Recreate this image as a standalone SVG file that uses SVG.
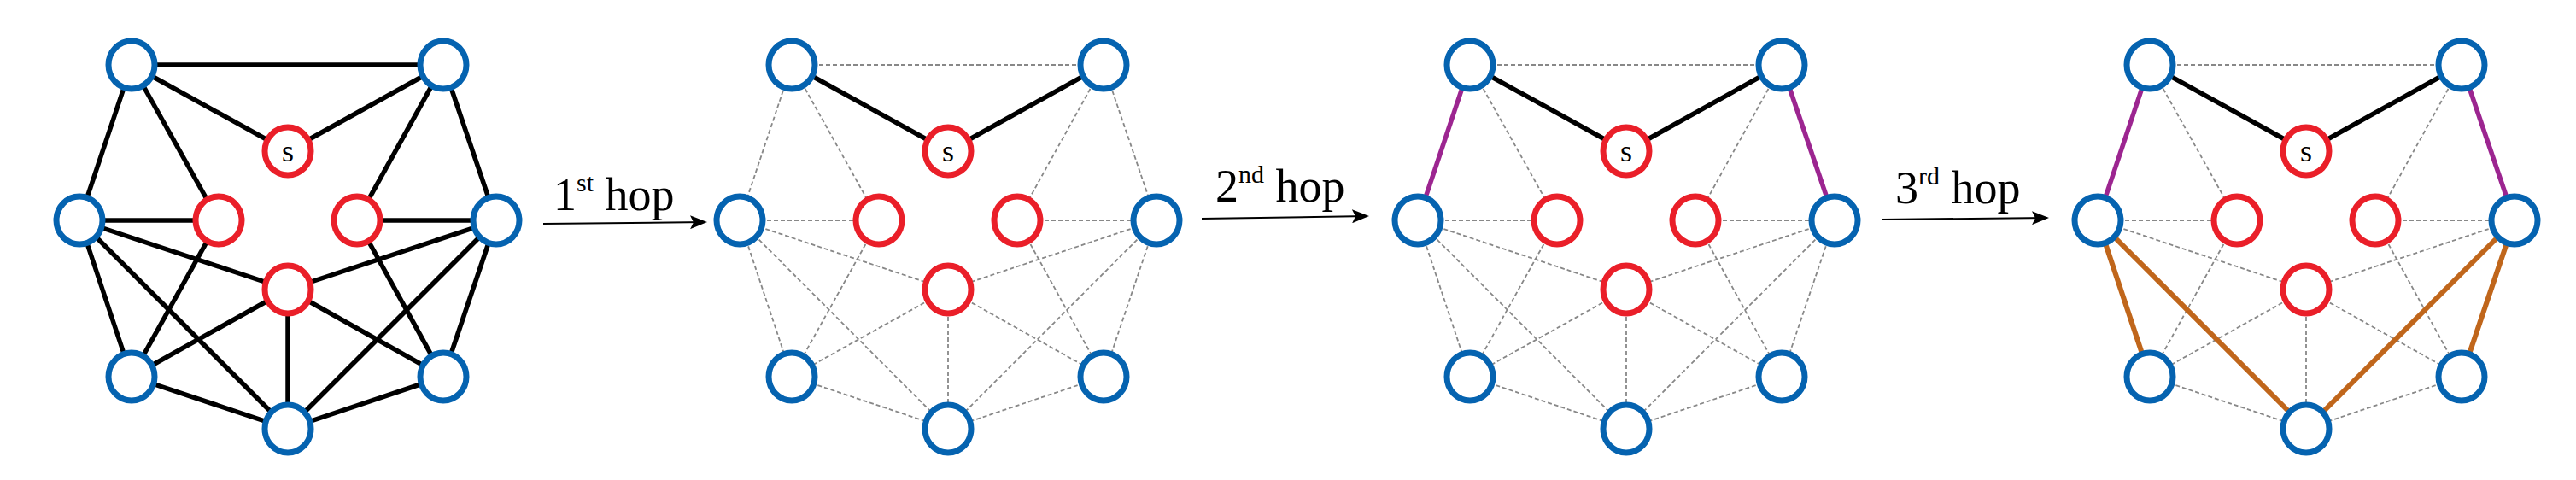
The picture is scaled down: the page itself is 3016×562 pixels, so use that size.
<svg xmlns="http://www.w3.org/2000/svg" width="3016" height="562" viewBox="0 0 3016 562">
<style>
.b{fill:#fff;stroke:#0563b0;stroke-width:7}
.r{fill:#fff;stroke:#ea1f29;stroke-width:7}
.k{stroke:#000;stroke-width:5.5}
.d{stroke:#888;stroke-width:1.8;stroke-dasharray:5 3}
.p{stroke:#9c2590;stroke-width:5.5}
.o{stroke:#c0661b;stroke-width:6}
.a{stroke:#000;stroke-width:2}
text{font-family:"Liberation Serif",serif;fill:#000}
.s{font-size:36px;text-anchor:middle}
.l{font-size:54px}
.sup{font-size:30px}
</style>
<defs>
<marker id="ar" markerWidth="10" markerHeight="8" refX="9" refY="4" orient="auto" markerUnits="strokeWidth"><path d="M0,0 L10,4 L0,8 L2,4 Z" fill="#000"/></marker>
<g id="E1">
<line x1="-183" y1="76" x2="182" y2="76"/><line x1="-183" y1="76" x2="0" y2="177"/><line x1="182" y1="76" x2="0" y2="177"/>
<line x1="-183" y1="76" x2="-244" y2="258"/><line x1="-183" y1="76" x2="-81" y2="258"/><line x1="182" y1="76" x2="81" y2="258"/><line x1="182" y1="76" x2="244" y2="258"/>
<line x1="-244" y1="258" x2="-81" y2="258"/><line x1="81" y1="258" x2="244" y2="258"/>
<line x1="-244" y1="258" x2="0" y2="339"/><line x1="244" y1="258" x2="0" y2="339"/>
<line x1="-244" y1="258" x2="-183" y2="441"/><line x1="-244" y1="258" x2="0" y2="502"/><line x1="-81" y1="258" x2="-183" y2="441"/>
<line x1="0" y1="339" x2="-183" y2="441"/><line x1="0" y1="339" x2="0" y2="502"/><line x1="0" y1="339" x2="182" y2="441"/>
<line x1="81" y1="258" x2="182" y2="441"/><line x1="244" y1="258" x2="0" y2="502"/><line x1="244" y1="258" x2="182" y2="441"/>
<line x1="-183" y1="441" x2="0" y2="502"/><line x1="182" y1="441" x2="0" y2="502"/>
</g>
<g id="N">
<ellipse class="b" cx="-183" cy="76" rx="27" ry="28"/><ellipse class="b" cx="182" cy="76" rx="27" ry="28"/>
<ellipse class="r" cx="0" cy="177" rx="27" ry="28"/>
<ellipse class="b" cx="-244" cy="258" rx="27" ry="28"/><ellipse class="r" cx="-81" cy="258" rx="27" ry="28"/>
<ellipse class="r" cx="81" cy="258" rx="27" ry="28"/><ellipse class="b" cx="244" cy="258" rx="27" ry="28"/>
<ellipse class="r" cx="0" cy="339" rx="27" ry="28"/>
<ellipse class="b" cx="-183" cy="441" rx="27" ry="28"/><ellipse class="b" cx="182" cy="441" rx="27" ry="28"/>
<ellipse class="b" cx="0" cy="502" rx="27" ry="28"/>
<text class="s" x="0" y="189">s</text>
</g>
</defs>
<g id="connectors">
<use href="#E1" class="k" transform="translate(337,0)"/>
<use href="#E1" class="d" transform="translate(1110,0)"/>
<use href="#E1" class="d" transform="translate(1904,0)"/>
<use href="#E1" class="d" transform="translate(2700,0)"/>
<g class="k">
<line x1="927" y1="76" x2="1110" y2="177"/><line x1="1292" y1="76" x2="1110" y2="177"/>
<line x1="1721" y1="76" x2="1904" y2="177"/><line x1="2086" y1="76" x2="1904" y2="177"/>
<line x1="2517" y1="76" x2="2700" y2="177"/><line x1="2882" y1="76" x2="2700" y2="177"/>
</g>
<g class="p">
<line x1="1721" y1="76" x2="1660" y2="258"/><line x1="2086" y1="76" x2="2148" y2="258"/>
<line x1="2517" y1="76" x2="2456" y2="258"/><line x1="2882" y1="76" x2="2944" y2="258"/>
</g>
<g class="o">
<line x1="2456" y1="258" x2="2517" y2="441"/><line x1="2456" y1="258" x2="2700" y2="502"/>
<line x1="2944" y1="258" x2="2700" y2="502"/><line x1="2944" y1="258" x2="2882" y2="441"/>
</g>
<line class="a" x1="636" y1="262" x2="826" y2="260" marker-end="url(#ar)"/>
<line class="a" x1="1407" y1="256" x2="1601" y2="253" marker-end="url(#ar)"/>
<line class="a" x1="2203" y1="257" x2="2397" y2="255" marker-end="url(#ar)"/>
</g>
<g id="graph1"><use href="#N" transform="translate(337,0)"/></g>
<g id="graph2"><use href="#N" transform="translate(1110,0)"/></g>
<g id="graph3"><use href="#N" transform="translate(1904,0)"/></g>
<g id="graph4"><use href="#N" transform="translate(2700,0)"/></g>
<g id="labels">
<text class="l" x="648" y="246">1<tspan class="sup" dy="-22">st</tspan><tspan dy="22"> hop</tspan></text>
<text class="l" x="1423" y="236">2<tspan class="sup" dy="-22">nd</tspan><tspan dy="22"> hop</tspan></text>
<text class="l" x="2219" y="238">3<tspan class="sup" dy="-22">rd</tspan><tspan dy="22"> hop</tspan></text>
</g>
</svg>
